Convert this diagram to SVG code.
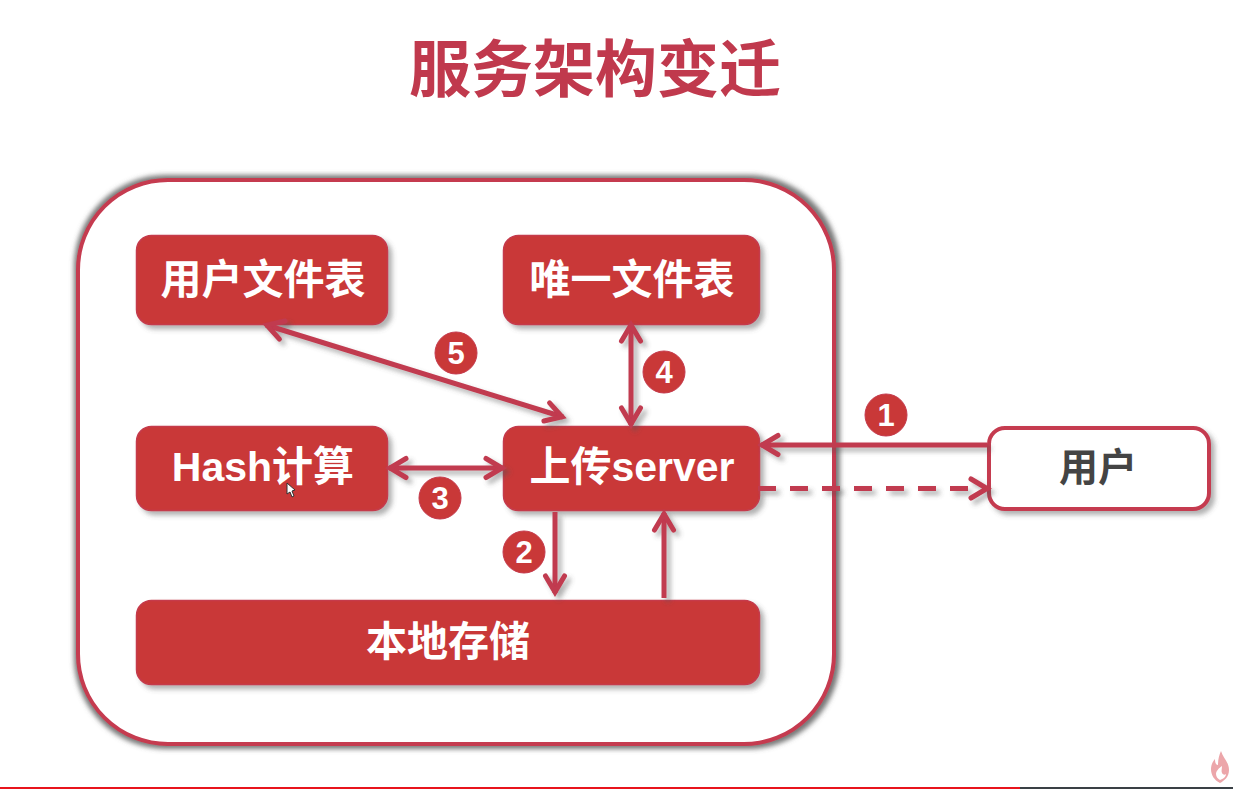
<svg xmlns="http://www.w3.org/2000/svg" width="1233" height="789" viewBox="0 0 1233 789">
<style>
text{font-family:"Liberation Sans","Noto Sans CJK SC",sans-serif;text-anchor:middle;font-weight:700}
.box{fill:#c93838;stroke:#c53a4c;stroke-width:1.500}
.lbl{fill:#fff;font-size:41px}
.num{fill:#fff;font-size:31px}
.dot{fill:#c93838;stroke:#c53a4c;stroke-width:1}
.ln{fill:none;stroke:#c13a50;stroke-width:5}
.hd{fill:none;stroke:#c13a50;stroke-width:5;stroke-linecap:round;stroke-linejoin:miter}
</style>
<defs>
<filter id="s" x="-5%" y="-5%" width="110%" height="110%"><feMorphology in="SourceAlpha" operator="dilate" radius="3" result="d"/><feGaussianBlur in="d" stdDeviation="2.500" result="b"/><feOffset in="b" dx="1" dy="0" result="o"/><feFlood flood-color="#555" flood-opacity=".8"/><feComposite in2="o" operator="in" result="c"/><feMerge><feMergeNode in="c"/><feMergeNode in="SourceGraphic"/></feMerge></filter>
<filter id="s2" x="-20%" y="-20%" width="140%" height="140%"><feDropShadow dx="4" dy="4" stdDeviation="2.500" flood-color="#555" flood-opacity=".45"/></filter>
<marker id="a" viewBox="-22 -14 28 28" markerWidth="28" markerHeight="28" refX="0" refY="0" orient="auto-start-reverse" markerUnits="userSpaceOnUse"><path d="M-17-9.500L-1 0L-17 9.500" class="hd"/></marker>
</defs>
<rect width="1233" height="789" fill="#fff"/>
<text x="595" y="92" style="font-size:62px" fill="#c0394d">服务架构变迁</text>
<g id="container"><rect x="78" y="180" width="756" height="564" rx="90" fill="#fff" stroke="#c53a50" stroke-width="4" filter="url(#s)"/></g>
<g id="n-user-files"><rect class="box" x="136.500" y="235.500" width="251" height="89" rx="15" filter="url(#s2)"/><text class="lbl" x="263" y="294">用户文件表</text></g>
<g id="n-unique-files"><rect class="box" x="503.500" y="235.500" width="256" height="89" rx="15" filter="url(#s2)"/><text class="lbl" x="632" y="294">唯一文件表</text></g>
<g id="n-hash"><rect class="box" x="136.500" y="426.500" width="251" height="84" rx="15" filter="url(#s2)"/><text class="lbl" x="263" y="481">Hash计算</text></g>
<g id="n-upload"><rect class="box" x="503.500" y="426.500" width="256" height="84" rx="15" filter="url(#s2)"/><text class="lbl" x="632" y="481">上传server</text></g>
<g id="n-storage"><rect class="box" x="136.500" y="600.500" width="623" height="84" rx="15" filter="url(#s2)"/><text class="lbl" x="448" y="656">本地存储</text></g>
<g id="n-user"><rect x="989" y="428" width="220" height="81" rx="16" fill="#fff" stroke="#c53a50" stroke-width="4" filter="url(#s2)"/><text x="1098" y="481" style="font-size:39px" fill="#444">用户</text></g>
<g id="connectors" filter="url(#s2)">
<path class="ln" d="M266 325L563 417" marker-start="url(#a)" marker-end="url(#a)"/>
<path class="ln" d="M631 324V425" marker-start="url(#a)" marker-end="url(#a)"/>
<path class="ln" d="M389 468H503" marker-start="url(#a)" marker-end="url(#a)"/>
<path class="ln" d="M555 512V593" marker-end="url(#a)"/>
<path class="ln" d="M664 598V513" marker-end="url(#a)"/>
<path class="ln" d="M987 445H761" marker-end="url(#a)"/>
<path class="ln" d="M758 488.500H988" stroke-dasharray="18 14" marker-end="url(#a)"/>
</g>
<g id="badges">
<circle class="dot" cx="456" cy="353" r="21"/><text class="num" x="456" y="364">5</text>
<circle class="dot" cx="664" cy="372" r="21"/><text class="num" x="664" y="383">4</text>
<circle class="dot" cx="440" cy="498" r="21"/><text class="num" x="440" y="509">3</text>
<circle class="dot" cx="524" cy="552" r="21"/><text class="num" x="524" y="563">2</text>
<circle class="dot" cx="886" cy="415" r="21"/><text class="num" x="886" y="426">1</text>
</g>
<rect x="0" y="787" width="1020" height="2" fill="#e8141c"/><rect x="1020" y="787" width="213" height="2" fill="#3a4045"/>
<path d="M1221 751C1223 758 1229 762 1229 770C1229 777 1224 781 1220 783C1214 780 1211 775 1211 769C1211 765 1213 761 1215 759C1215 763 1216 765 1218 765C1218 760 1219 755 1221 751Z" fill="#eca6aa"/>
<path d="M1222 766C1219 768 1216 771 1216 774C1216 777 1218 779 1220 780C1223 779 1226 777 1226 774C1225 775 1223 775 1222 773C1221 771 1222 769 1222 766Z" fill="#fff"/>
<path d="M287 483L287 494L290 492L292 497L294 496L292 491L295 490Z" fill="#fff" stroke="#333" stroke-width="1"/>
</svg>
